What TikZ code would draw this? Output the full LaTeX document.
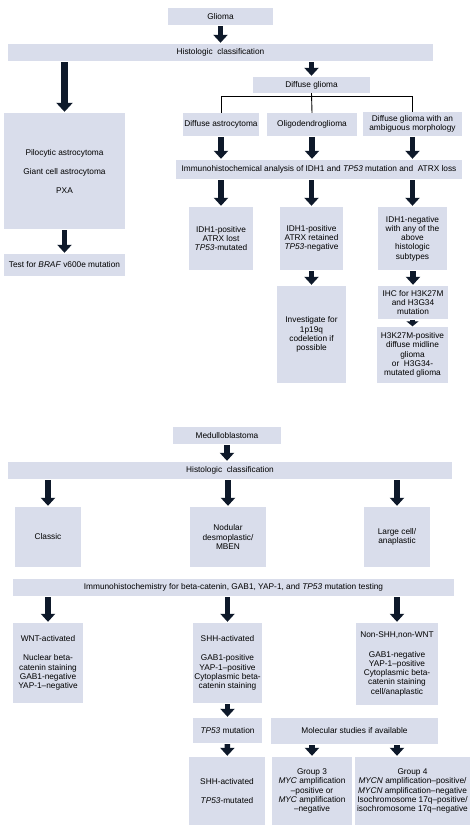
\documentclass[tikz,border=0pt]{standalone}
\usepackage{fontspec}
\setmainfont{Liberation Sans}
\usetikzlibrary{arrows.meta}
\definecolor{boxfill}{RGB}{217,221,235}
\definecolor{arrowcol}{RGB}{14,25,42}
\tikzset{
  box/.style={fill=boxfill, inner sep=1pt, align=center, font=\fontsize{8.3}{9.3}\selectfont},
  bigarrow/.style={draw=arrowcol, line width=5.5pt, -{Triangle[width=14pt,length=8pt]}, shorten <=1pt, shorten >=1pt},
  widearrow/.style={bigarrow, line width=7pt, -{Triangle[width=16pt,length=9pt]}},
  smallarrow/.style={bigarrow, -{Triangle[width=12pt,length=5pt]}, shorten <=0.5pt, shorten >=0.5pt},
  bracket/.style={draw=black, line width=0.9pt}
}

\begin{document}
\begin{tikzpicture}[x=1pt,y=-1pt]
  \useasboundingbox[fill=white] (0,0) rectangle (474,833);

  % glioma
  \node[box, minimum width=105pt, minimum height=17pt] (glioma) at (220.5,16.5) {Glioma};
  \node[box, minimum width=425pt, minimum height=17pt] (hist1) at (220.5,52.5) {Histologic\ \ classification};
  \node[box, minimum width=117pt, minimum height=16pt] (dglioma) at (311.5,85) {Diffuse glioma};
  \node[box, minimum width=76pt, minimum height=23pt] (dastro) at (221,124.5) {Diffuse astrocytoma};
  \node[box, minimum width=90pt, minimum height=23pt] (oligo) at (312,124.5) {Oligodendroglioma};
  \node[box, minimum width=99pt, minimum height=24pt] (ambig) at (412.5,124) {Diffuse glioma with an\\ambiguous morphology};
  \node[box, minimum width=286pt, minimum height=19pt] (ihc1) at (319,169.5) {Immunohistochemical analysis of IDH1 and \textit{TP53} mutation and\ \ ATRX loss};
  \node[box, minimum width=64pt, minimum height=63pt] (idhA) at (221,238.5) {IDH1-positive\\ATRX lost\\\textit{TP53}-mutated};
  \node[box, minimum width=63pt, minimum height=63pt] (idhB) at (311.5,238.5) {IDH1-positive\\ATRX retained\\\textit{TP53}-negative};
  \node[box, minimum width=69pt, minimum height=63pt] (idhC) at (412.5,238.5) {IDH1-negative\\with any of the\\above\\histologic\\subtypes};
  \node[box, minimum width=121pt, minimum height=116pt] (pilo) at (64.5,171) {Pilocytic astrocytoma\\[9.7pt]Giant cell astrocytoma\\[9.7pt]PXA};
  \node[box, minimum width=121pt, minimum height=22pt] (braf) at (64.5,265) {Test for \textit{BRAF} v600e mutation};
  \node[box, minimum width=69pt, minimum height=97pt] (invest) at (311.5,334.5) {Investigate for\\1p19q\\codeletion if\\possible};
  \node[box, minimum width=70pt, minimum height=33pt] (ihc2) at (413,302.5) {IHC for H3K27M\\and H3G34\\mutation};
  \node[box, minimum width=71pt, minimum height=56pt] (h3) at (412.5,355) {H3K27M-positive\\diffuse midline\\glioma\\or\ \ H3G34-\\mutated glioma};

  \draw[bigarrow] (glioma) -- (hist1);
  \draw[widearrow] (hist1.south -| pilo.north) -- (pilo.north);
  \draw[bigarrow] (hist1.south -| dglioma.north) -- (dglioma.north);
  \draw[bracket] (dglioma.south) -- (oligo.north);
  \draw[bracket] (dastro.north) -- ++(0,-16) -| (ambig.north);
  \foreach \b in {dastro,oligo,ambig}
    \draw[bigarrow] (\b.south) -- (\b.south |- ihc1.north);
  \foreach \b in {idhA,idhB,idhC}
    \draw[bigarrow] (ihc1.south -| \b.north) -- (\b.north);
  \draw[bigarrow] (pilo) -- (braf);
  \draw[bigarrow] (idhB) -- (invest);
  \draw[bigarrow] (idhC.south -| ihc2.north) -- (ihc2.north);
  \draw[smallarrow] (ihc2.south -| h3.north) -- (h3.north);

  % medulloblastoma
  \node[box, minimum width=108pt, minimum height=17pt] (med) at (227,435.5) {Medulloblastoma};
  \node[box, minimum width=444pt, minimum height=17pt] (hist2) at (230,470.5) {Histologic\ \ classification};
  \node[box, minimum width=66pt, minimum height=60pt] (classic) at (48,537) {Classic};
  \node[box, minimum width=76pt, minimum height=60pt] (nodular) at (228,537) {Nodular\\desmoplastic/\\MBEN};
  \node[box, minimum width=66pt, minimum height=60pt] (large) at (397,537) {Large cell/\\anaplastic};
  \node[box, minimum width=441pt, minimum height=17pt] (ihc3) at (233.5,587.5) {Immunohistochemistry for beta-catenin, GAB1, YAP-1, and \textit{TP53} mutation testing};
  \node[box, minimum width=70pt, minimum height=80pt] (wnt) at (48,663) {WNT-activated\\[10pt]Nuclear beta-\\catenin staining\\GAB1-negative\\YAP-1--negative};
  \node[box, minimum width=69pt, minimum height=80pt] (shh) at (227.5,663) {SHH-activated\\[10pt]GAB1-positive\\YAP-1--positive\\Cytoplasmic beta-\\catenin staining};
  \node[box, minimum width=82pt, minimum height=82pt] (nonshh) at (397,664) {Non-SHH,non-WNT\\[10pt]GAB1-negative\\YAP-1--positive\\Cytoplasmic beta-\\catenin staining\\cell/anaplastic};
  \node[box, minimum width=69pt, minimum height=25pt] (tp53) at (227.5,730.5) {\textit{TP53} mutation};
  \node[box, minimum width=167pt, minimum height=26pt] (molec) at (354.5,731) {Molecular studies if available};
  \node[box, minimum width=76pt, minimum height=68pt] (shh2) at (227,791) {SHH-activated\\[9pt]\textit{TP53}-mutated};
  \node[box, minimum width=80pt, minimum height=68pt] (grp3) at (312,791) {Group 3\\\textit{MYC} amplification\\--positive or\\\textit{MYC} amplification\\--negative};
  \node[box, minimum width=115pt, minimum height=68pt] (grp4) at (412.5,791) {Group 4\\\textit{MYCN} amplification--positive/\\\textit{MYCN} amplification--negative\\Isochromosome 17q--positive/\\isochromosome 17q--negative};

  \draw[bigarrow] (med.south) -- (med.south |- hist2.north);
  \foreach \b in {classic,nodular,large}
    \draw[bigarrow] (hist2.south -| \b.north) -- (\b.north);
  \foreach \b in {wnt,shh,nonshh}
    \draw[bigarrow] (ihc3.south -| \b.north) -- (\b.north);
  \draw[bigarrow] (shh) -- (tp53);
  \draw[bigarrow] (tp53) -- (shh2);
  \draw[bigarrow] (molec.south -| grp3.north) -- (grp3.north);
  \draw[bigarrow] (molec.south -| nonshh) -- (grp4.north -| nonshh);
\end{tikzpicture}
\end{document}
